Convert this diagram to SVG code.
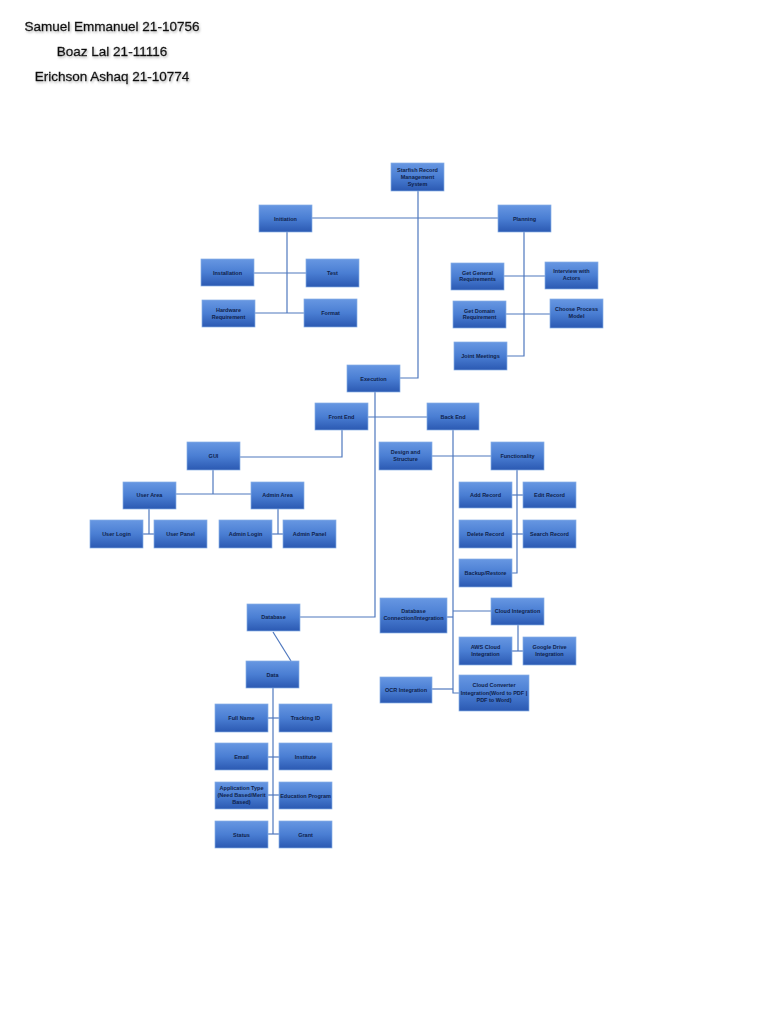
<svg xmlns="http://www.w3.org/2000/svg" width="768" height="1024" viewBox="0 0 768 1024">
<defs>
<linearGradient id="g" x1="0" y1="0" x2="0" y2="1">
<stop offset="0" stop-color="#6797e2"/>
<stop offset="0.5" stop-color="#4a7ed3"/>
<stop offset="1" stop-color="#2b59b2"/>
</linearGradient>
<filter id="sh" x="-10%" y="-30%" width="120%" height="160%">
<feDropShadow dx="1" dy="1.5" stdDeviation="0.8" flood-color="#888" flood-opacity="0.6"/>
</filter>
</defs>
<style>
.b{fill:url(#g);stroke:#86aee6;stroke-width:0.7}
.t{font-family:"Liberation Sans",Arial,sans-serif;font-weight:bold;font-size:5.5px;fill:#0f1f4b;text-anchor:middle}
.h{font-family:"Liberation Sans",Arial,sans-serif;font-size:13.5px;fill:#111111;stroke:#111111;stroke-width:0.35;text-anchor:middle;filter:url(#sh)}
.c{fill:none;stroke:#4f78be;stroke-width:1.2}
</style>
<rect width="768" height="1024" fill="#ffffff"/>
<g id="header">
<text class="h" x="112" y="31">Samuel Emmanuel 21-10756</text>
<text class="h" x="112" y="56">Boaz Lal 21-11116</text>
<text class="h" x="112" y="81">Erichson Ashaq 21-10774</text>
</g>
<g id="connectors">
<path class="c" d="M418,191 V378 H400"/>
<path class="c" d="M312,218 H498"/>
<path class="c" d="M287,232 V313"/>
<path class="c" d="M254,273 H306"/>
<path class="c" d="M255,313 H304"/>
<path class="c" d="M524,232 V356 H507"/>
<path class="c" d="M504,276 H545"/>
<path class="c" d="M506,314 H550"/>
<path class="c" d="M375,392 V617 H300"/>
<path class="c" d="M368,417 H427"/>
<path class="c" d="M342,430 V457 H240"/>
<path class="c" d="M453,430 V693 H459"/>
<path class="c" d="M432,456 H491"/>
<path class="c" d="M447,617 H453"/>
<path class="c" d="M453,611 H491"/>
<path class="c" d="M432,689 H453"/>
<path class="c" d="M517,470 V573 H512"/>
<path class="c" d="M512,495 H523"/>
<path class="c" d="M512,534 H523"/>
<path class="c" d="M213,470 V494"/>
<path class="c" d="M176,494 H251"/>
<path class="c" d="M149,509 V534"/>
<path class="c" d="M143,534 H154"/>
<path class="c" d="M278,509 V534"/>
<path class="c" d="M272,534 H283"/>
<path class="c" d="M518,625 V651"/>
<path class="c" d="M512,651 H523"/>
<path class="c" d="M273,632 L291,661"/>
<path class="c" d="M273,688 V834"/>
<path class="c" d="M268,718 H279"/>
<path class="c" d="M268,757 H279"/>
<path class="c" d="M268,795 H279"/>
<path class="c" d="M268,834 H279"/>
</g>
<g id="n1"><rect class="b" x="391" y="163" width="53" height="28"/><text class="t" x="417.5" y="171.5">Starfish Record</text><text class="t" x="417.5" y="178.5">Management</text><text class="t" x="417.5" y="185.5">System</text></g>
<g id="n2"><rect class="b" x="259" y="205" width="53" height="27"/><text class="t" x="285.5" y="220.5">Initiation</text></g>
<g id="n3"><rect class="b" x="498" y="205" width="53" height="27"/><text class="t" x="524.5" y="220.5">Planning</text></g>
<g id="n4"><rect class="b" x="201" y="259" width="53" height="27"/><text class="t" x="227.5" y="274.5">Installation</text></g>
<g id="n5"><rect class="b" x="306" y="259" width="53" height="28"/><text class="t" x="332.5" y="274.5">Test</text></g>
<g id="n6"><rect class="b" x="202" y="300" width="53" height="27"/><text class="t" x="228.5" y="311.5">Hardware</text><text class="t" x="228.5" y="318.5">Requirement</text></g>
<g id="n7"><rect class="b" x="304" y="299" width="53" height="28"/><text class="t" x="330.5" y="314.5">Format</text></g>
<g id="n8"><rect class="b" x="451" y="263" width="53" height="27"/><text class="t" x="477.5" y="274.5">Get General</text><text class="t" x="477.5" y="280.5">Requirements</text></g>
<g id="n9"><rect class="b" x="545" y="262" width="53" height="27"/><text class="t" x="571.5" y="273">Interview with</text><text class="t" x="571.5" y="280">Actors</text></g>
<g id="n10"><rect class="b" x="453" y="301" width="53" height="27"/><text class="t" x="479.5" y="312.5">Get Domain</text><text class="t" x="479.5" y="318.5">Requirement</text></g>
<g id="n11"><rect class="b" x="550" y="299" width="53" height="29"/><text class="t" x="576.5" y="311">Choose Process</text><text class="t" x="576.5" y="318">Model</text></g>
<g id="n12"><rect class="b" x="454" y="342" width="53" height="28"/><text class="t" x="480.5" y="358">Joint Meetings</text></g>
<g id="n13"><rect class="b" x="347" y="365" width="53" height="27"/><text class="t" x="373.5" y="380.5">Execution</text></g>
<g id="n14"><rect class="b" x="315" y="403" width="53" height="27"/><text class="t" x="341.5" y="418.5">Front End</text></g>
<g id="n15"><rect class="b" x="427" y="403" width="52" height="27"/><text class="t" x="453" y="418.5">Back End</text></g>
<g id="n16"><rect class="b" x="187" y="442" width="53" height="28"/><text class="t" x="213.5" y="458">GUI</text></g>
<g id="n17"><rect class="b" x="379" y="442" width="53" height="28"/><text class="t" x="405.5" y="454">Design and</text><text class="t" x="405.5" y="461">Structure</text></g>
<g id="n18"><rect class="b" x="491" y="442" width="53" height="28"/><text class="t" x="517.5" y="458">Functionality</text></g>
<g id="n19"><rect class="b" x="123" y="482" width="53" height="27"/><text class="t" x="149.5" y="497">User Area</text></g>
<g id="n20"><rect class="b" x="251" y="482" width="53" height="27"/><text class="t" x="277.5" y="497">Admin Area</text></g>
<g id="n21"><rect class="b" x="459" y="482" width="53" height="26"/><text class="t" x="485.5" y="497">Add Record</text></g>
<g id="n22"><rect class="b" x="523" y="482" width="53" height="26"/><text class="t" x="549.5" y="497">Edit Record</text></g>
<g id="n23"><rect class="b" x="90" y="520" width="53" height="28"/><text class="t" x="116.5" y="536">User Login</text></g>
<g id="n24"><rect class="b" x="154" y="520" width="53" height="28"/><text class="t" x="180.5" y="536">User Panel</text></g>
<g id="n25"><rect class="b" x="219" y="520" width="53" height="28"/><text class="t" x="245.5" y="536">Admin Login</text></g>
<g id="n26"><rect class="b" x="283" y="520" width="53" height="28"/><text class="t" x="309.5" y="536">Admin Panel</text></g>
<g id="n27"><rect class="b" x="459" y="520" width="53" height="28"/><text class="t" x="485.5" y="536">Delete Record</text></g>
<g id="n28"><rect class="b" x="523" y="520" width="53" height="28"/><text class="t" x="549.5" y="536">Search Record</text></g>
<g id="n29"><rect class="b" x="459" y="559" width="53" height="28"/><text class="t" x="485.5" y="574.5">Backup/Restore</text></g>
<g id="n30"><rect class="b" x="247" y="604" width="53" height="27"/><text class="t" x="273.5" y="619">Database</text></g>
<g id="n31"><rect class="b" x="380" y="598" width="67" height="35"/><text class="t" x="413.5" y="613">Database</text><text class="t" x="413.5" y="620">Connection/Integration</text></g>
<g id="n32"><rect class="b" x="491" y="598" width="53" height="27"/><text class="t" x="517.5" y="613">Cloud Integration</text></g>
<g id="n33"><rect class="b" x="459" y="637" width="53" height="28"/><text class="t" x="485.5" y="648.5">AWS Cloud</text><text class="t" x="485.5" y="656">Integration</text></g>
<g id="n34"><rect class="b" x="523" y="637" width="53" height="28"/><text class="t" x="549.5" y="648.5">Google Drive</text><text class="t" x="549.5" y="656">Integration</text></g>
<g id="n35"><rect class="b" x="246" y="661" width="53" height="27"/><text class="t" x="272.5" y="676.5">Data</text></g>
<g id="n36"><rect class="b" x="380" y="677" width="52" height="26"/><text class="t" x="406" y="691.5">OCR Integration</text></g>
<g id="n37"><rect class="b" x="459" y="675" width="70" height="36"/><text class="t" x="494" y="687">Cloud Converter</text><text class="t" x="494" y="694.5">Integration(Word to PDF |</text><text class="t" x="494" y="702">PDF to Word)</text></g>
<g id="n38"><rect class="b" x="215" y="704" width="53" height="28"/><text class="t" x="241.5" y="720">Full Name</text></g>
<g id="n39"><rect class="b" x="279" y="704" width="53" height="28"/><text class="t" x="305.5" y="720">Tracking ID</text></g>
<g id="n40"><rect class="b" x="215" y="743" width="53" height="27"/><text class="t" x="241.5" y="758.5">Email</text></g>
<g id="n41"><rect class="b" x="279" y="743" width="53" height="27"/><text class="t" x="305.5" y="758.5">Institute</text></g>
<g id="n42"><rect class="b" x="215" y="782" width="53" height="27"/><text class="t" x="241.5" y="790">Application Type</text><text class="t" x="241.5" y="797">(Need Based/Merit</text><text class="t" x="241.5" y="804">Based)</text></g>
<g id="n43"><rect class="b" x="279" y="782" width="53" height="27"/><text class="t" x="305.5" y="797.5">Education Program</text></g>
<g id="n44"><rect class="b" x="215" y="821" width="53" height="27"/><text class="t" x="241.5" y="836.5">Status</text></g>
<g id="n45"><rect class="b" x="279" y="821" width="53" height="27"/><text class="t" x="305.5" y="836.5">Grant</text></g>
</svg>
